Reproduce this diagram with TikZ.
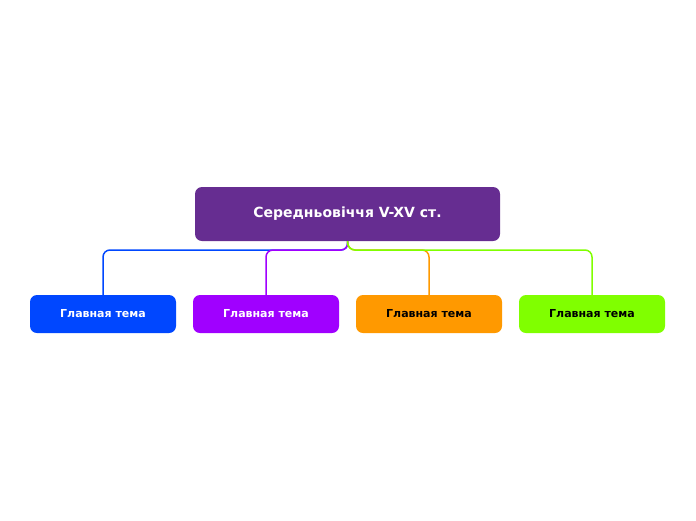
\documentclass[tikz,border=0pt]{standalone}
\usepackage{fontspec}
\setmainfont{DejaVu Sans}
\definecolor{rootc}{HTML}{662D91}
\definecolor{cblue}{HTML}{0047FF}
\definecolor{cpurp}{HTML}{A000FF}
\definecolor{corng}{HTML}{FF9900}
\definecolor{cgrn}{HTML}{80FF00}
\begin{document}
\begin{tikzpicture}[x=1pt,y=-1pt,
  box/.style={rounded corners=7pt,minimum height=38pt,minimum width=146pt,font=\bfseries\fontsize{11}{13}\selectfont,inner sep=0pt},
  conn/.style={line width=1.5pt,rounded corners=7pt}]
\useasboundingbox (0,0) rectangle (696,520);
\node[box,fill=rootc,text=white,minimum width=305pt,minimum height=54pt,font=\bfseries\fontsize{14}{16}\selectfont] (root) at (347.5,214) {Середньовіччя V-XV ст.};
\node[box,fill=cblue,text=white] (c1) at (103,314) {Главная тема};
\node[box,fill=cpurp,text=white] (c2) at (266,314) {Главная тема};
\node[box,fill=corng,text=black] (c3) at (429,314) {Главная тема};
\node[box,fill=cgrn,text=black] (c4) at (592,314) {Главная тема};
\coordinate (j) at (348,250);
\draw[conn,cblue] (root.south) -- (j) -- (c1.north |- j) -- (c1.north);
\draw[conn,cpurp] (root.south) -- (j) -- (c2.north |- j) -- (c2.north);
\draw[conn,corng] (root.south) -- (j) -- (c3.north |- j) -- (c3.north);
\draw[conn,cgrn] (root.south) -- (j) -- (c4.north |- j) -- (c4.north);
\end{tikzpicture}
\end{document}
